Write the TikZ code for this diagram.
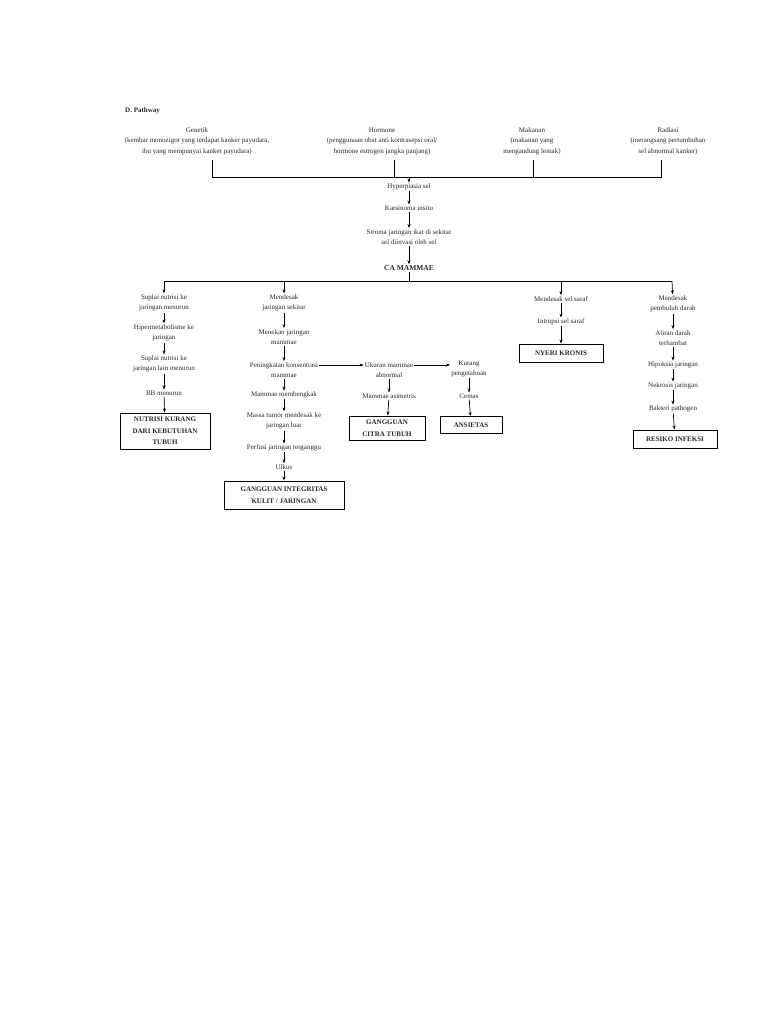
\documentclass[tikz,border=0pt]{standalone}
\usepackage{fontspec}
\setmainfont{Liberation Serif}
\usetikzlibrary{arrows.meta}
\begin{document}
\begin{tikzpicture}[x=1pt,y=-1pt,
 every node/.style={inner sep=1pt,align=center,font=\fontsize{7}{10.5}\selectfont,text=black!85},
 bx/.style={draw,line width=0.9pt,font=\fontsize{7}{11.5}\selectfont\bfseries,inner sep=2pt},
 arr/.style={-{Stealth[length=4pt,width=3pt]},line width=0.7pt},
 ln/.style={line width=0.7pt}]
\useasboundingbox (0,0) rectangle (768,1024);
\node[anchor=west,font=\fontsize{7}{9}\selectfont\bfseries] (title) at (124,111) {D. Pathway};
\node (gen) at (197,141) {Genetik\\(kembar monozigot yang terdapat kanker payudara,\\ibu yang mempunyai kanker payudara)};
\node (hor) at (382,141) {Hormone\\(penggunaan obat anti kontrasepsi oral/\\hormone estrogen jangka panjang)};
\node (mak) at (532,141) {Makanan\\(makanan yang\\mengandung lemak)};
\node (rad) at (668,141) {Radiasi\\(merangsang pertumbuhan\\sel abnormal kanker)};
\coordinate (t1) at (212,177);\coordinate (t2) at (394,177);\coordinate (t3) at (533,177);\coordinate (t4) at (661,177);
\coordinate (tm) at (409,177);
\draw[ln] (212,160) -- (t1) -- (t4) -- (661,160);
\draw[ln] (394,160) -- (t2);\draw[ln] (533,160) -- (t3);
\node (hyp) at (409,187) {Hyperplasia sel};
\node (kar) at (409,208) {Karsinoma insitu};
\node (str) at (409,237) {Stroma jaringan ikat di sekitar\\sel diinvasi oleh sel};
\node[font=\fontsize{7.5}{9}\selectfont\bfseries] (ca) at (409,268) {CA MAMMAE};
\draw[arr] (tm) -- (hyp);
\draw[arr] (hyp) -- (kar);
\draw[arr] (kar) -- (str);
\draw[arr] (str) -- (ca);
\coordinate (bm) at (409,281);
\draw[ln] (ca) -- (bm);
\draw[ln] (164,281) -- (672,281);
% column 1
\node (c1a) at (164,303) {Suplai nutrisi ke\\jaringan menurun};
\node (c1b) at (164,333) {Hipermetabolisme ke\\jaringan};
\node (c1c) at (164,364) {Suplai nutrisi ke\\jaringan lain menurun};
\node (c1d) at (164,393) {BB menurun};
\node[bx,minimum width=90pt,minimum height=36pt] (c1e) at (165,431) {NUTRISI KURANG\\DARI KEBUTUHAN\\TUBUH};
\draw[arr] (164,281) -- (c1a);
\draw[arr] (c1a) -- (c1b);\draw[arr] (c1b) -- (c1c);\draw[arr] (c1c) -- (c1d);\draw[arr] (c1d) -- (c1e);
% column 2
\node (c2a) at (284,303) {Mendesak\\jaringan sekitar};
\node (c2b) at (284,337) {Menekan jaringan\\mammae};
\node (c2c) at (284,370) {Peningkatan konsentrasi\\mammae};
\node (c2d) at (284,395) {Mammae membengkak};
\node (c2e) at (284,421) {Massa tumor mendesak ke\\jaringan luar};
\node (c2f) at (284,448) {Perfusi jaringan terganggu};
\node (c2g) at (284,467) {Ulkus};
\node[bx,minimum width=120pt,minimum height=28pt] (c2h) at (284,495) {GANGGUAN INTEGRITAS\\KULIT / JARINGAN};
\draw[arr] (284,281) -- (c2a);
\draw[arr] (c2a) -- (c2b);\draw[arr] (c2b) -- (c2c);\draw[arr] (c2c) -- (c2d);\draw[arr] (c2d) -- (c2e);
\draw[arr] (c2e) -- (c2f);\draw[arr] (c2f) -- (c2g);\draw[arr] (c2g) -- (c2h);
% column 3
\node (c3a) at (389,370) {Ukuran mammae\\abnormal};
\node (c3b) at (389,396) {Mammae asimetris};
\node[bx,minimum width=76pt,minimum height=24pt] (c3c) at (387,428) {GANGGUAN\\CITRA TUBUH};
\draw[arr] (c3a) -- (c3b);\draw[arr] (c3b) -- (c3c);
\draw[arr] (c2c.east |- 0,365) -- (c3a.west |- 0,365);
% column 4
\node (c4a) at (469,369) {Kurang\\pengetahuan};
\node (c4b) at (469,396) {Cemas};
\node[bx,minimum width=62pt,minimum height=17pt] (c4c) at (471,425) {ANSIETAS};
\draw[arr] (c4a) -- (c4b);\draw[arr] (c4b) -- (c4c);
\draw[arr] (c3a.east |- 0,365) -- (c4a.west |- 0,365);
% column 5
\node (c5a) at (561,299) {Mendesak sel saraf};
\node (c5b) at (561,322) {Intrupsi sel saraf};
\node[bx,minimum width=84pt,minimum height=18pt] (c5c) at (561,353) {NYERI KRONIS};
\draw[arr] (561,281) -- (c5a);
\draw[arr] (c5a) -- (c5b);\draw[arr] (c5b) -- (c5c);
% column 6
\node (c6a) at (673,304) {Mendesak\\pembuluh darah};
\node (c6b) at (673,338) {Aliran darah\\terhambat};
\node (c6c) at (673,365) {Hipoksia jaringan};
\node (c6d) at (673,386) {Nekrosis jaringan};
\node (c6e) at (673,409) {Bakteri pathogen};
\node[bx,minimum width=84pt,minimum height=18pt] (c6f) at (675,439) {RESIKO INFEKSI};
\draw[arr] (672,281) -- (c6a);
\draw[arr] (c6a) -- (c6b);\draw[arr] (c6b) -- (c6c);\draw[arr] (c6c) -- (c6d);\draw[arr] (c6d) -- (c6e);\draw[arr] (c6e) -- (c6f);
\end{tikzpicture}
\end{document}
